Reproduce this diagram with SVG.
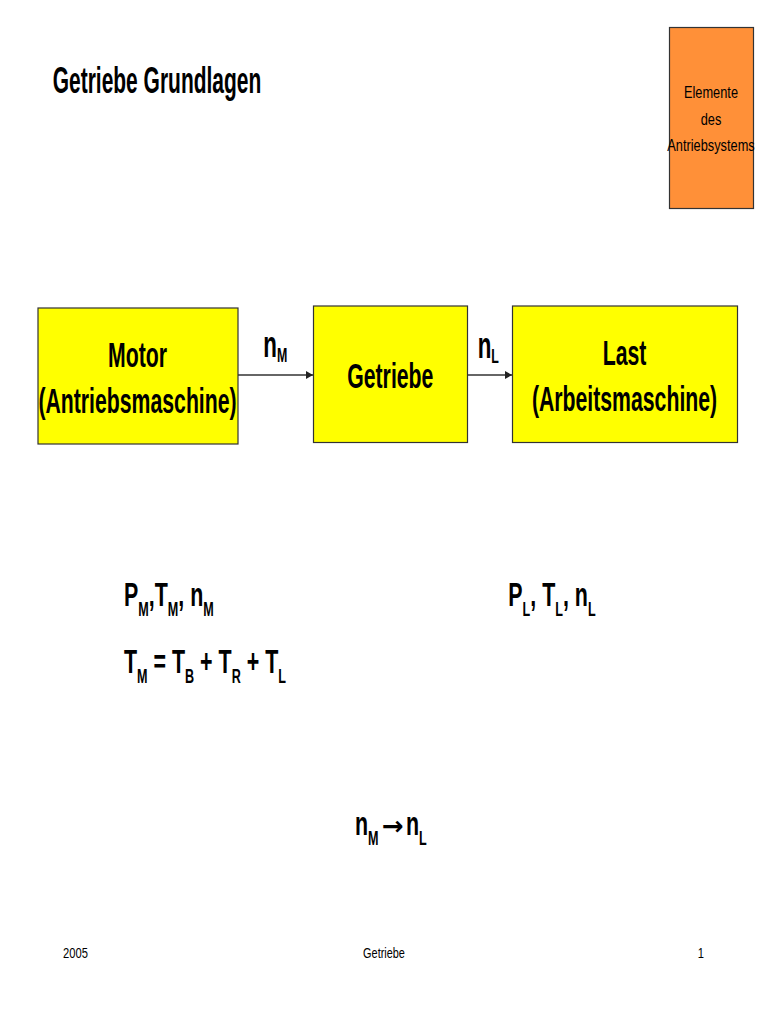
<svg xmlns="http://www.w3.org/2000/svg" width="768" height="1024" viewBox="0 0 768 1024">
<style>
.b{font-family:"Liberation Sans",Arial,sans-serif;font-weight:bold;fill:#000}
.r{font-family:"Liberation Sans",Arial,sans-serif;fill:#000}
.box{fill:#FFFF00;stroke:#333;stroke-width:1.2}
.obox{fill:#FF9038;stroke:#333;stroke-width:1.2}
.conn{stroke:#333;stroke-width:1.5;fill:none}
</style>
<defs>
<marker id="ah" markerWidth="8" markerHeight="8" refX="7" refY="4" orient="auto" markerUnits="userSpaceOnUse">
<path d="M0,0 L7,4 L0,8 z" fill="#222"/>
</marker>
</defs>
<rect width="768" height="1024" fill="#fff"/>
<text class="b" font-size="37" transform="translate(52.7,93) scale(0.567,1)">Getriebe Grundlagen</text>
<g id="elemente">
<rect class="obox" x="669.5" y="27.5" width="84" height="181"/>
<g class="r" font-size="16" text-anchor="middle">
<text transform="translate(711,98) scale(0.8,1)">Elemente</text>
<text transform="translate(711,125) scale(0.8,1)">des</text>
<text transform="translate(711,151) scale(0.8,1)">Antriebsystems</text>
</g>
</g>
<g id="motor">
<rect class="box" x="38" y="308" width="200" height="136"/>
<g class="b" font-size="36" text-anchor="middle">
<text transform="translate(137.5,366.5) scale(0.59,1)">Motor</text>
<text transform="translate(137.5,413) scale(0.59,1)">(Antriebsmaschine)</text>
</g>
</g>
<g id="getriebe">
<rect class="box" x="313.5" y="306" width="154" height="136.5"/>
<text class="b" font-size="36" text-anchor="middle" transform="translate(390.3,388.3) scale(0.59,1)">Getriebe</text>
</g>
<g id="last">
<rect class="box" x="512.5" y="306" width="225" height="136.5"/>
<g class="b" font-size="36" text-anchor="middle">
<text transform="translate(624.5,365) scale(0.59,1)">Last</text>
<text transform="translate(624.5,410.5) scale(0.59,1)">(Arbeitsmaschine)</text>
</g>
</g>
<g id="connectors">
<line class="conn" x1="238" y1="375" x2="313" y2="375" marker-end="url(#ah)"/>
<line class="conn" x1="467.5" y1="375" x2="512" y2="375" marker-end="url(#ah)"/>
<text class="b" font-size="36" transform="translate(263.3,356.7) scale(0.62,1)">n<tspan font-size="20" dy="5">M</tspan></text>
<text class="b" font-size="36" transform="translate(477.7,358.3) scale(0.62,1)">n<tspan font-size="20" dy="5">L</tspan></text>
</g>
<g id="formulas">
<text class="b" font-size="34" transform="translate(124,606) scale(0.63,1)">P<tspan font-size="20" dy="10">M</tspan><tspan dy="-10">,T</tspan><tspan font-size="20" dy="10">M</tspan><tspan dy="-10">, n</tspan><tspan font-size="20" dy="10">M</tspan></text>
<text class="b" font-size="34" transform="translate(124,673.3) scale(0.63,1)">T<tspan font-size="20" dy="10">M</tspan><tspan dy="-10"> = T</tspan><tspan font-size="20" dy="10">B</tspan><tspan dy="-10"> + T</tspan><tspan font-size="20" dy="10">R</tspan><tspan dy="-10"> + T</tspan><tspan font-size="20" dy="10">L</tspan></text>
<text class="b" font-size="34" transform="translate(508.3,606) scale(0.63,1)">P<tspan font-size="20" dy="10">L</tspan><tspan dy="-10">, T</tspan><tspan font-size="20" dy="10">L</tspan><tspan dy="-10">, n</tspan><tspan font-size="20" dy="10">L</tspan></text>
<text class="b" font-size="34" transform="translate(355,835) scale(0.63,1)">n<tspan font-size="20" dy="10">M</tspan><tspan dy="-10"> </tspan></text>
<text font-family="DejaVu Sans,sans-serif" font-weight="bold" font-size="26" transform="translate(382,835)">→</text>
<text class="b" font-size="34" transform="translate(406,835) scale(0.63,1)">n<tspan font-size="20" dy="10">L</tspan></text>
</g>
<g id="footer" class="r" font-size="14">
<text transform="translate(63,958) scale(0.8,1)">2005</text>
<text text-anchor="middle" transform="translate(384,958) scale(0.78,1)">Getriebe</text>
<text text-anchor="end" transform="translate(704,958) scale(0.8,1)">1</text>
</g>
</svg>
